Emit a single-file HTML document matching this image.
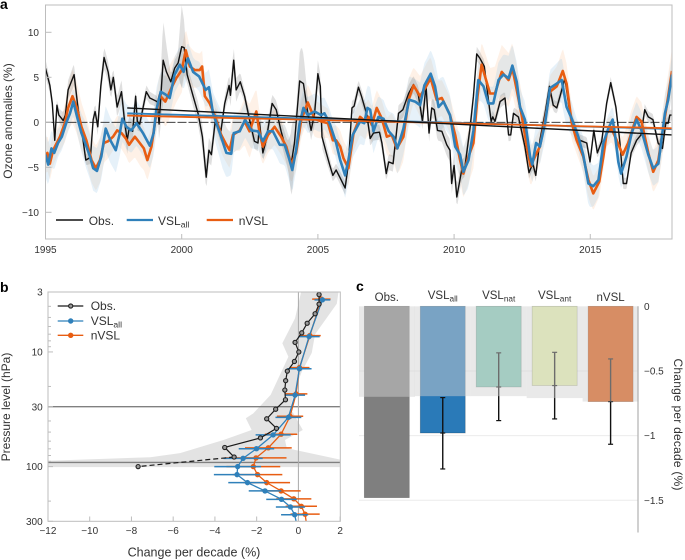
<!DOCTYPE html>
<html lang="en">
<head>
<meta charset="utf-8">
<title>Ozone anomalies and trends</title>
<style>
html,body{margin:0;padding:0;background:#fff;width:685px;height:560px;overflow:hidden}
svg{display:block;font-family:"Liberation Sans",sans-serif}
text{fill:#333}
</style>
</head>
<body>
<svg id="chart" xmlns="http://www.w3.org/2000/svg" width="685" height="560" viewBox="0 0 685 560"></svg>
<script>
// ---------- Panel a data ----------
const obsYears=[1995,1995.16,1995.25,1995.34,1995.42,1995.49,1995.65,1995.73,1995.83,1996.05,1996.2,1996.38,1996.48,1996.65,1996.75,1996.82,1996.92,1997.03,1997.15,1997.3,1997.4,1997.49,1997.63,1997.79,1997.91,1998,1998.07,1998.2,1998.31,1998.37,1998.46,1998.58,1998.7,1998.83,1999.1,1999.17,1999.32,1999.44,1999.6,1999.74,1999.87,2000,2000.09,2000.2,2000.42,2000.6,2000.76,2000.9,2001,2001.09,2001.25,2001.42,2001.58,2001.74,2001.79,2001.91,2002,2002.15,2002.31,2002.49,2002.67,2002.8,2002.86,2002.98,2003.1,2003.32,2003.47,2003.65,2003.84,2004.02,2004.14,2004.33,2004.47,2004.63,2004.75,2004.88,2005,2005.09,2005.15,2005.31,2005.43,2005.55,2005.67,2005.82,2006,2006.12,2006.25,2006.33,2006.49,2006.6,2006.8,2006.92,2007.04,2007.26,2007.35,2007.51,2007.6,2007.76,2007.96,2008.12,2008.33,2008.51,2008.69,2008.84,2008.97,2009.08,2009.18,2009.27,2009.39,2009.55,2009.73,2009.85,2009.91,2010,2010.1,2010.28,2010.4,2010.59,2010.71,2010.83,2010.95,2011.11,2011.26,2011.36,2011.42,2011.5,2011.69,2011.87,2012,2012.08,2012.18,2012.36,2012.48,2012.6,2012.75,2012.89,2013,2013.15,2013.34,2013.5,2013.64,2013.77,2013.89,2014.07,2014.25,2014.44,2014.62,2014.87,2014.99,2015.13,2015.26,2015.42,2015.6,2015.75,2015.94,2016.09,2016.21,2016.33,2016.5,2016.7,2016.86,2017,2017.13,2017.3,2017.49,2017.65,2017.77,2017.86,2017.92,2018];
const obsValues=[6,4.1,2.1,-2,1.9,0.8,0.2,0.8,3.6,5.3,1.4,-2,-4.2,-3.9,0.3,1.2,-0.5,4,7.2,5.6,3.6,5,1.7,3.4,-0.1,-2,-0.7,-1,2.9,0.1,-0.2,1.6,3.4,2.7,2.3,-0.2,6.9,5.6,4.5,6,6.6,8.4,8.3,5.3,2.9,1,-1.6,-6.1,-3.1,-3.6,0.6,-1.4,2.1,4.1,3,6.9,3.6,4.5,2.9,0.3,-2.1,-2.3,-0.1,-3.4,-2,2.1,1.4,-1,-3.1,-4.6,-2.3,4.6,4.3,1,-0.9,1,5.4,4,-1.6,-3.4,-4.7,-5.9,-5.3,-6.2,-7.3,-4.6,1.6,1.8,3.9,2.9,0.8,-1.8,-1.2,-1.1,-2.3,-5.7,-4.4,-4.6,1,1.4,3.2,4.2,3,0.1,4.1,-1.2,1.6,1.4,-0.9,-1,-2.5,-3.1,-6.8,-4.8,-8.3,-5.3,-4.9,-0.5,2.9,7.6,7.1,6.2,2.5,0.1,0.6,0.1,2.3,2.7,-1.4,-1.4,1,0.6,-1,-2.7,-5.6,-4.6,-5.9,-2,1,4,1.9,1.6,2.9,4.9,1,-0.7,-2,-2.3,-4.4,-0.9,-3.4,-2.1,2.1,4.4,1.7,-2.3,-6.8,-6.8,-3.4,-2,-1.4,1.4,0.6,0.3,-2.3,-2.9,-0.1,-0.1,0.8,0.8];
const vslYears=[1995,1995.1,1995.22,1995.32,1995.46,1995.6,1995.77,1995.9,1996.02,1996.16,1996.32,1996.48,1996.63,1996.75,1996.89,1997.05,1997.21,1997.38,1997.58,1997.73,1997.82,1997.97,1998.15,1998.34,1998.58,1998.83,1998.97,1999.07,1999.23,1999.4,1999.56,1999.74,1999.93,2000.07,2000.23,2000.42,2000.64,2000.88,2001,2001.15,2001.4,2001.64,2001.82,2001.91,2002.13,2002.33,2002.55,2002.8,2002.98,2003.17,2003.35,2003.6,2003.78,2003.94,2004.06,2004.2,2004.33,2004.47,2004.63,2004.88,2005.12,2005.24,2005.43,2005.67,2005.82,2006,2006.12,2006.28,2006.55,2006.7,2006.82,2006.92,2007.04,2007.22,2007.41,2007.6,2007.78,2007.92,2008.14,2008.35,2008.57,2008.75,2008.91,2009.14,2009.3,2009.43,2009.61,2009.85,2010.04,2010.22,2010.34,2010.53,2010.71,2010.89,2011.08,2011.26,2011.44,2011.63,2011.81,2012,2012.14,2012.3,2012.42,2012.6,2012.79,2012.87,2013.01,2013.15,2013.34,2013.52,2013.77,2013.95,2014.13,2014.32,2014.56,2014.74,2014.93,2015.11,2015.3,2015.48,2015.66,2015.82,2015.9,2016.03,2016.13,2016.33,2016.52,2016.7,2016.88,2017.13,2017.31,2017.5,2017.74,2017.86,2018];
const vslValues=[-3.6,-4.7,-2.9,-3.4,-2.3,-1.6,0,1,2.3,0.6,-1.2,-2.5,-3.8,-5.1,-5.4,-3.8,-0.7,-2,-3.1,-1.2,0.4,-0.5,-0.9,-0.1,-1.2,-2.6,-1.2,1.4,3.4,3.1,2.7,5.3,6.4,5.6,7.1,5.6,5.1,3.6,3.9,1,-1.2,-3.4,-3.5,-1.2,-1,0.3,-0.9,-1,-2.1,-1,-1,-2.5,-2.5,-4,-5.3,-3.1,-0.1,1.6,0.8,1.2,0.8,1,-0.1,-2.3,-4.2,-5.9,-4.2,-1.4,0.1,-0.1,1.6,1.4,-1,0.6,0.4,-1,-1.6,-2.9,-0.7,2.5,2.3,1.9,4.1,5.4,4,1.7,2.3,0.8,-2.7,-3.6,-5.5,-4.2,-0.9,4.7,4,2.1,2.1,4.7,5.3,4.9,6.3,4.5,1.7,0.3,-3.8,-4.7,-2.3,-2.7,-0.1,3.8,4.3,4.7,1.7,0.4,-1.6,-3.6,-6.8,-7.1,-6.4,-2.3,-0.7,0.3,-1.2,-4.4,-5.7,-3.8,-1.2,0.3,-0.9,-3.6,-5.1,-4.6,1,2.5,5.3];
const nvslYears=[1995,1995.07,1995.16,1995.28,1995.53,1995.71,1995.83,1995.99,1996.14,1996.32,1996.5,1996.69,1996.85,1997,1997.14,1997.3,1997.48,1997.63,1997.79,1997.95,1998.07,1998.28,1998.46,1998.61,1998.74,1998.89,1999.07,1999.19,1999.4,1999.62,1999.8,2000,2000.15,2000.3,2000.48,2000.66,2000.75,2000.85,2001.03,2001.21,2001.45,2001.64,2001.76,2001.88,2002.13,2002.31,2002.49,2002.74,2002.86,2002.98,2003.17,2003.41,2003.65,2003.84,2004.02,2004.2,2004.39,2004.63,2004.88,2005.12,2005.37,2005.55,2005.67,2005.82,2005.94,2006.12,2006.31,2006.55,2006.74,2006.86,2006.98,2007.16,2007.35,2007.53,2007.71,2007.9,2008.14,2008.33,2008.51,2008.75,2008.94,2009.14,2009.36,2009.55,2009.85,2010.04,2010.22,2010.34,2010.53,2010.71,2010.86,2011.01,2011.32,2011.5,2011.75,2012,2012.14,2012.3,2012.48,2012.67,2012.81,2012.97,2013.15,2013.34,2013.52,2013.77,2013.99,2014.13,2014.32,2014.5,2014.74,2014.93,2015.11,2015.33,2015.48,2015.6,2015.78,2015.97,2016.19,2016.39,2016.58,2016.7,2016.88,2017.13,2017.31,2017.5,2017.74,2017.86,2018];
const nvslValues=[-3.8,-3.4,-4.6,-3.1,-1.6,-0.1,1.6,2.9,1.7,-0.5,-2,-4.2,-5.1,-4.2,-2.3,-2.1,-1.6,-0.9,-1.2,-1.8,-2.5,-1.6,-2.3,-2.9,-4.2,-2.7,1,3,2.3,3.8,4.9,5.8,8,6.2,5.8,5.8,6.2,2.9,2.1,0.8,-1.4,-2.5,-3.1,-1.4,-0.9,0.1,-1,1.2,-1.2,-2.7,-1.4,-0.5,-1.6,-2.7,-4.7,-3.4,0.3,2.2,0.4,0.1,-0.1,-2,-2,-2.7,-4,-5.1,-1.2,0.6,0.1,0.6,-0.3,1.6,0.4,-1.6,-1.4,-2.9,-1.6,2.5,4.1,2.9,3.8,4.9,2.5,2.7,0.8,-1.4,-4.2,-5.7,-3.8,-2.3,2.9,6.4,3.2,3.2,5.6,4.7,6,3.6,0.8,-2.7,-4.9,-3.8,-2.7,0.3,3.4,4,5.7,4.3,-0.1,-2,-3.8,-6.4,-7.9,-6.6,-3.8,-1.2,-0.7,-2,-3.6,-2.3,-0.5,0.6,0.1,-3.4,-5.5,-4.2,0.6,2.9,5.7];
const spreadYears=[1995,1995.5,1996,1996.5,1997,1997.5,1998,1998.5,1999,1999.5,2000,2000.5,2001,2001.5,2002,2002.5,2003,2003.5,2004,2004.5,2005,2005.5,2006,2006.5,2007,2007.5,2008,2008.5,2009,2009.5,2010,2010.5,2011,2011.5,2012,2012.5,2013,2013.5,2014,2014.5,2015,2015.5,2016,2016.5,2017,2017.5,2018];
const obsSpreadYears=[1995,1995.3,1996,1996.5,1997.15,1997.5,1998,1998.5,1999.1,1999.32,1999.6,1999.85,2000,2000.2,2000.9,2001.5,2001.91,2002.3,2003,2003.5,2003.9,2004.05,2004.2,2004.4,2004.7,2005,2005.5,2009,2010,2011,2018];
const obsSpread=[1,0.6,1.2,0.6,1.2,1,1.5,0.8,0.6,4.5,0.8,1,4.6,1,1.5,0.7,1.5,0.7,1,1,1.5,4,1.5,4,1,1.5,0.7,1,1.3,0.7,0.6];
const vslSpread=[2.5,1.5,1.5,2.5,2.5,2.5,2.5,2.5,2.5,2,2,1.5,2,3,2,2,2,2,2.5,2,2,1.5,2.5,2.5,2.5,2,3,2.5,2.5,3,2,3,2,1.8,2.5,2,2,2,2.5,1.5,2.5,1.5,1.5,2,2,2,2.2];
const nvslSpread=[2,1.5,3,2.5,2.5,1.5,2,2.5,2,3,2.5,2,1.5,2,2,3,2,2,2,2,2,1.5,2,2,2,2,3,2,2.5,2,2,3,2.5,3,3,2.5,2,1.8,2.5,1.5,2,1.5,1.5,2.5,2,2.5,2.5];
const trendYears=[1998,2018];
const obsTrend=[1.6,-1.4];
const vslTrend=[1.0,-0.75];
const nvslTrend=[0.75,-0.67];
const yearTicks=[1995,2000,2005,2010,2015];
const anomalyTicks=[10,5,0,-5,-10];

// ---------- Panel b data ----------
const obsLevels=[3.16,3.83,4.64,5.62,6.81,8.25,10,12.1,14.7,17.8,21.5,26.1,31.6,38.3,46.4,56.2,68.1,82.5,100];
const obsProfile=[0.99,0.99,0.8,0.42,0.16,-0.16,0.02,-0.19,-0.53,-0.61,-0.65,-0.62,-1.09,-1.52,-1.05,-1.82,-3.53,-3.08,-7.68];
const vslLevels=[3.51,7.35,14,23.8,37.2,52.9,69.8,84.7,100,117.5,138,163,193,225,263];
const vslProfile=[1.15,0.51,0.05,-0.16,-0.48,-1.21,-2.01,-2.65,-2.91,-2.94,-2.44,-1.6,-0.81,-0.38,-0.18];
const vslError=[0.38,0.51,0.58,0.48,0.62,0.84,0.85,0.94,1.12,1.11,0.92,0.78,0.73,0.7,0.65];
const vslBottom=-0.11;
const nvslLevels=[3.46,7.2,13.7,23.2,36.4,52.2,68.6,84,100,117.5,138,163,191,222,260];
const nvslProfile=[1.1,0.55,0.05,-0.11,-0.4,-0.83,-1.44,-2.03,-2.16,-1.96,-1.52,-0.83,-0.22,0.14,0.32];
const nvslError=[0.44,0.52,0.48,0.54,0.63,0.78,1.12,1.46,1.29,1.19,1.12,0.94,0.84,0.75,0.7];
const nvslBottom=0.37;
const bandLeftLevels=[3,5.08,8.4,11,23.7,34.3,37.9,47.9,58.6,76.3,82.8,89,101];
const bandLeftValues=[0.13,-0.16,-0.77,-0.48,-1.33,-2.16,-2.52,-2.24,-3.59,-5.67,-7.1,-12,-12];
const bandRightLevels=[3,3.8,7,10.2,14.9,21.4,31.3,34.3,47.9,58.6,69,87,101];
const bandRightValues=[1.92,1.84,0.8,0.64,0.16,-0.16,-0.4,-0.24,0.21,-0.64,-0.56,2,2];
const changeTicks=[-12,-10,-8,-6,-4,-2,0,2];
const pressureTicks=[3,10,30,100,300];
const pressureMinorTicks=[4,5,6,7,8,9,20,40,50,60,70,80,90,200];
const pressureLines=[30,92];

// ---------- Panel c data ----------
const barNames=["Obs.","VSL","VSL","VSL","nVSL"];
const barSubs=["","all","nat","ant",""];
const barValues=[-1.48,-0.98,-0.624,-0.613,-0.737];
const barLow=[null,-1.258,-0.884,-0.871,-1.067];
const barHigh=[null,-0.706,-0.36,-0.356,-0.407];
const bandValues=[-0.7,-0.695,-0.695,-0.71,-0.737];
const decadeTicks=[0,-0.5,-1,-1.5];
const decadeLabels=["0","\u22120.5","\u22121","\u22121.5"];

// ---------- Helpers ----------
const NS="http://www.w3.org/2000/svg";
const svg=document.getElementById('chart');
function add(tag,attrs,parent){
  const el=document.createElementNS(NS,tag);
  for(const k in attrs)el.setAttribute(k,attrs[k]);
  (parent||svg).appendChild(el);
  return el;
}
function label(str,x,y,size,anchor,parent){
  const t=add('text',{x:x,y:y,'font-size':size,'text-anchor':anchor||'start'},parent);
  t.textContent=str;
  return t;
}
function subLabel(str,sub,x,y,size,anchor,parent){
  const t=add('text',{x:x,y:y,'font-size':size,'text-anchor':anchor||'start'},parent);
  t.appendChild(document.createTextNode(str));
  const s=add('tspan',{dy:2.5,'font-size':size*0.72},t);
  s.textContent=sub;
  return t;
}
function pathOf(xs,ys){
  return xs.map((v,i)=>(i?'L':'M')+v.toFixed(2)+' '+ys[i].toFixed(2)).join('');
}
function interp(xs,ys,x){
  if(x<=xs[0])return ys[0];
  for(let i=1;i<xs.length;i++){
    if(x<=xs[i])return ys[i-1]+(ys[i]-ys[i-1])*(x-xs[i-1])/(xs[i]-xs[i-1]);
  }
  return ys[ys.length-1];
}
const INK='#bdbdbd';

// ---------- Panel a ----------
const ax=y=>45.5+(y-1995)*(672-45.5)/23;
const ay=v=>122.3-v*9;
const A={l:ax(1995),r:ax(2018),t:5,b:239};

const clipDefs=add('defs',{});
const clipA=add('clipPath',{id:'clip-a'},clipDefs);
add('rect',{x:A.l,y:A.t,width:A.r-A.l,height:A.b-A.t},clipA);
const clipB=add('clipPath',{id:'clip-b'},clipDefs);
add('rect',{x:48,y:292,width:292.3,height:229.3},clipB);

const panelA=add('g',{'clip-path':'url(#clip-a)'});



function band(years,values,sYears,spread,color){
  const up=[],lo=[],xs=[];
  for(let m=0;m<=552;m++){
    const t=1995+m/24;
    const v=interp(years,values,t), s=interp(sYears,spread,t);
    xs.push(ax(t));up.push(ay(v+s));lo.push(ay(v-s));
  }
  const d=pathOf(xs,up)+pathOf(xs.slice().reverse(),lo.slice().reverse()).replace('M','L')+'Z';
  return add('path',{d:d,fill:color,stroke:'none'},panelA);
}
const bandNvsl=band(nvslYears,nvslValues,spreadYears,nvslSpread,'rgba(250,205,170,0.28)');


const bandVsl=band(vslYears,vslValues,spreadYears,vslSpread,'rgba(165,205,232,0.28)');


const bandObs=band(obsYears,obsValues,obsSpreadYears,obsSpread,'rgba(110,110,110,0.22)');



const zeroLine=add('line',{x1:A.l,x2:A.r,y1:ay(0),y2:ay(0),stroke:'#222','stroke-width':0.9,'stroke-dasharray':'9 2'},panelA);



function series(years,values,color,w,parent){
  return add('path',{d:pathOf(years.map(ax),values.map(ay)),fill:'none',stroke:color,'stroke-width':w,'stroke-linejoin':'round'},parent);
}
const lineObs=series(obsYears,obsValues,'#111',1.4,panelA);


const lineNvsl=series(nvslYears,nvslValues,'#e85d12',2.6,panelA);


const lineVsl=series(vslYears,vslValues,'#2f80ba',2.6,panelA);


const trendVsl=series(trendYears,vslTrend,'#2f80ba',1.8,panelA);


const trendNvsl=series(trendYears,nvslTrend,'#e85d12',1.8,panelA);


const trendObs=series(trendYears,obsTrend,'#111',1.4,panelA);



const frameA=add('rect',{x:A.l,y:A.t,width:A.r-A.l,height:A.b-A.t,fill:'none',stroke:INK,'stroke-width':1});


yearTicks.forEach(y=>{
  const tk=add('line',{x1:ax(y),x2:ax(y),y1:A.b,y2:A.b-5,stroke:INK,'stroke-width':1});
  
  
  const t=label(String(y),ax(y),253,10,'middle');
  
  
});
anomalyTicks.forEach(v=>{
  const tk=add('line',{x1:A.l,x2:A.l+6,y1:ay(v),y2:ay(v),stroke:INK,'stroke-width':1});
  
  
  const t=label(String(v).replace('-','\u2212'),39,ay(v)+3.6,10,'end');
  
  
});
const yTitleA=label('Ozone anomalies (%)',0,0,12,'middle');
yTitleA.setAttribute('transform','translate(12 121) rotate(-90)');



// legend a
const legObsA=add('line',{x1:56,x2:83,y1:220,y2:220,stroke:'#111','stroke-width':1.4});


const legObsAT=label('Obs.',88.7,225,12);


const legVslA=add('line',{x1:126.7,x2:153,y1:220,y2:220,stroke:'#2f80ba','stroke-width':2.2});


const legVslAT=subLabel('VSL','all',158,225,12);


const legNvslA=add('line',{x1:206.7,x2:233,y1:220,y2:220,stroke:'#e85d12','stroke-width':2.2});


const legNvslAT=label('nVSL',238.7,225,12);



const letterA=add('text',{x:0,y:9,'font-size':14,'font-weight':'bold',style:'fill:#000'});
letterA.textContent='a';



// ---------- Panel b ----------
const bx=v=>298.4+v*20.87;
const by=p=>292+Math.log10(p/3)*114.65;
const panelB=add('g',{'clip-path':'url(#clip-b)'});



const bandXs=bandLeftValues.map(bx).concat(bandRightValues.slice().reverse().map(bx));
const bandYs=bandLeftLevels.map(by).concat(bandRightLevels.slice().reverse().map(by));
const profileBand=add('path',{d:pathOf(bandXs,bandYs)+'Z',fill:'#e3e3e3',stroke:'none'},panelB);



pressureLines.forEach(p=>{
  const l=add('line',{x1:48,x2:340.3,y1:by(p),y2:by(p),stroke:'#808080','stroke-width':1.4},panelB);
  
  
});
const zeroV=add('line',{x1:bx(0),x2:bx(0),y1:292,y2:521.3,stroke:'#aaaaaa','stroke-width':1},panelB);



function profile(levels,values,errors,bottom,color,nameLine,nameErr,nameDot){
  const line=add('path',{d:pathOf(values.concat([bottom]).map(bx),levels.concat([300]).map(by)),fill:'none',stroke:color,'stroke-width':1.3},panelB);
  
  
  values.forEach((v,i)=>{
    const e=add('line',{x1:bx(v-errors[i]),x2:bx(v+errors[i]),y1:by(levels[i]),y2:by(levels[i]),stroke:color,'stroke-width':1.5},panelB);
    
    
    const c=add('circle',{cx:bx(v),cy:by(levels[i]),r:2.7,fill:color},panelB);
    
    
  });
}
profile(nvslLevels,nvslProfile,nvslError,nvslBottom,'#e85d12','nvsl-profile-line','nvsl-error-bar','nvsl-point');
profile(vslLevels,vslProfile,vslError,vslBottom,'#2f80ba','vsl-all-profile-line','vsl-all-error-bar','vsl-all-point');

const n=obsProfile.length;
const obsSolid=add('path',{d:pathOf(obsProfile.slice(0,n-1).map(bx),obsLevels.slice(0,n-1).map(by)),fill:'none',stroke:'#1a1a1a','stroke-width':1.2},panelB);


const obsDash=add('path',{d:pathOf(obsProfile.slice(n-2).map(bx),obsLevels.slice(n-2).map(by)),fill:'none',stroke:'#1a1a1a','stroke-width':1.2,'stroke-dasharray':'5 3'},panelB);


obsProfile.forEach((v,i)=>{
  const c=add('circle',{cx:bx(v),cy:by(obsLevels[i]),r:2.1,fill:'#999',stroke:'#222','stroke-width':1.1},panelB);
  
  
});

const frameB=add('rect',{x:48,y:292,width:292.3,height:229.3,fill:'none',stroke:INK,'stroke-width':1});


changeTicks.forEach(v=>{
  const tk=add('line',{x1:bx(v),x2:bx(v),y1:521.3,y2:516.5,stroke:INK,'stroke-width':1});
  
  
  const t=label(String(v).replace('-','\u2212'),bx(v),534,10,'middle');
  
  
});
pressureTicks.forEach(p=>{
  const tk=add('line',{x1:48,x2:53,y1:by(p),y2:by(p),stroke:INK,'stroke-width':1});
  
  
  const t=label(String(p),42.7,by(p)+3.6,10,'end');
  
  
});
pressureMinorTicks.forEach(p=>{
  const tk=add('line',{x1:48,x2:51,y1:by(p),y2:by(p),stroke:INK,'stroke-width':1});
  
  
});
const xTitleB=label('Change per decade (%)',194,556.5,12.5,'middle');


const yTitleB=label('Pressure level (hPa)',0,0,12,'middle');
yTitleB.setAttribute('transform','translate(10 407) rotate(-90)');



// legend b
const legObsB=add('line',{x1:57.7,x2:83.3,y1:306,y2:306,stroke:'#1a1a1a','stroke-width':1.2});


const legObsBDot=add('circle',{cx:70.7,cy:306,r:2.1,fill:'#999',stroke:'#222','stroke-width':1.1});


const legObsBT=label('Obs.',90.7,310,12);


const legVslB=add('line',{x1:57.7,x2:83.3,y1:321,y2:321,stroke:'#2f80ba','stroke-width':1.3});


const legVslBDot=add('circle',{cx:70.7,cy:321,r:2.7,fill:'#2f80ba'});


const legVslBT=subLabel('VSL','all',90.7,325,12);


const legNvslB=add('line',{x1:57.7,x2:83.3,y1:335.3,y2:335.3,stroke:'#e85d12','stroke-width':1.3});


const legNvslBDot=add('circle',{cx:70.7,cy:335.3,r:2.7,fill:'#e85d12'});


const legNvslBT=label('nVSL',90.7,339.5,12);



const letterB=add('text',{x:0,y:292,'font-size':14,'font-weight':'bold',style:'fill:#000'});
letterB.textContent='b';



// ---------- Panel c ----------
const cy=v=>306.3-v*129.3;
const barX=i=>364.3+i*55.95;
const barW=45;
const barColors=['#7f7f7f','#2a7ab8','#7dc8b5','#e7f2ab','#dd4f00'];
const seriesSlugs=['obs','vsl-all','vsl-nat','vsl-ant','nvsl'];

decadeTicks.forEach((v,i)=>{
  if(v!==0){
    const g=add('line',{x1:359,x2:638,y1:cy(v),y2:cy(v),stroke:'#ececec','stroke-width':1});
    
    
  }
  const t=label(decadeLabels[i],644,cy(v)+3.5,10,'start');
  
  
});
barValues.forEach((v,i)=>{
  const b=add('rect',{x:barX(i),y:cy(0),width:barW,height:cy(v)-cy(0),fill:barColors[i],stroke:'rgba(0,0,0,0.25)','stroke-width':0.7});
  
  
  if(barLow[i]!==null){
    const cxp=barX(i)+barW/2;
    const e=add('line',{x1:cxp,x2:cxp,y1:cy(barHigh[i]),y2:cy(barLow[i]),stroke:'#111','stroke-width':1.4});
    
    
    [barHigh[i],v,barLow[i]].forEach(c=>{
      const cap=add('line',{x1:cxp-2.5,x2:cxp+2.5,y1:cy(c),y2:cy(c),stroke:'#111','stroke-width':1.2});
      
      
    });
  }
  const h=barSubs[i]?subLabel(barNames[i],barSubs[i],barX(i)+barW/2,299,11.5,'middle'):label(barNames[i],barX(i)+barW/2,301,11.5,'middle');
  
  
  const ov=add('rect',{x:i===0?359:barX(i)-5.5,y:cy(0),width:barW+11,height:cy(bandValues[i])-cy(0),fill:'rgba(208,208,208,0.48)'});
  
  
});
const axisC=add('line',{x1:638,x2:638,y1:306.3,y2:532.5,stroke:'#b0b0b0','stroke-width':1.2});


const yTitleC=label('Change per decade (%)',0,0,12,'middle');
yTitleC.setAttribute('transform','translate(674 424.5) rotate(90)');
yTitleC.setAttribute('textLength','132');



const letterC=add('text',{x:356,y:291,'font-size':14,'font-weight':'bold',style:'fill:#000'});
letterC.textContent='c';


</script>
</body>
</html>
